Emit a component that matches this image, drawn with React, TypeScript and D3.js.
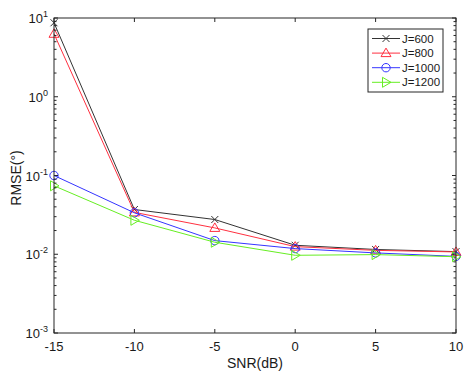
import React from 'react';
import * as d3 from 'd3';

const snr = [-15, -10, -5, 0, 5, 10];
const j600 = [8.7, 0.037, 0.0276, 0.013, 0.0115, 0.0108];
const j800 = [6.3, 0.034, 0.0216, 0.0125, 0.0112, 0.0107];
const j1000 = [0.1, 0.0336, 0.0149, 0.0118, 0.0104, 0.0094];
const j1200 = [0.074, 0.027, 0.0142, 0.0097, 0.0099, 0.0093];
const seriesNames = ['J=600', 'J=800', 'J=1000', 'J=1200'];
const xTicks = [-15, -10, -5, 0, 5, 10];
const yExps = [-3, -2, -1, 0, 1];

const colors = ['#333333', '#ff3040', '#3535ff', '#66ee22'];
const markers = ['x', 'tri', 'circle', 'right'];

function Marker({ type, x, y, color }: { type: string; x: number; y: number; color: string }) {
  const s = 4.5;
  if (type === 'x') {
    return <path d={`M${x - 3.5},${y - 3.5}L${x + 3.5},${y + 3.5}M${x - 3.5},${y + 3.5}L${x + 3.5},${y - 3.5}`} stroke={color} strokeWidth={1} fill="none" />;
  }
  if (type === 'tri') {
    return <path d={`M${x},${y - s - 0.5}L${x + s + 0.5},${y + s - 1}L${x - s - 0.5},${y + s - 1}Z`} stroke={color} strokeWidth={1} fill="none" />;
  }
  if (type === 'circle') {
    return <circle cx={x} cy={y} r={4.2} stroke={color} strokeWidth={1} fill="none" />;
  }
  return <path d={`M${x + s + 0.5},${y}L${x - s + 1},${y - s - 0.5}L${x - s + 1},${y + s + 0.5}Z`} stroke={color} strokeWidth={1} fill="none" />;
}

export default function App() {
  const W = 474, H = 375;
  const left = 54, right = 456, top = 18, bottom = 333;
  const x = d3.scaleLinear().domain([-15, 10]).range([left, right]);
  const y = d3.scaleLog().domain([1e-3, 10]).range([bottom, top]);
  const data = [j600, j800, j1000, j1200];
  const line = d3.line<number>().x((_, i) => x(snr[i])).y((d) => y(d));
  const axisColor = '#262626';
  const minor: number[] = [];
  for (let e = -3; e < 1; e++) for (let k = 2; k <= 9; k++) minor.push(k * Math.pow(10, e));
  const font = 'Arial, "Liberation Sans", sans-serif';

  return (
    <svg width={W} height={H} style={{ position: 'absolute', left: 0, top: 0, background: '#fff' }} fontFamily={font}>
      <rect x={0} y={0} width={W} height={H} fill="#fff" />
      {data.map((vals, si) => (
        <g key={si}>
          <path d={line(vals) || ''} stroke={colors[si]} strokeWidth={1} fill="none" />
          {vals.map((v, i) => (
            <Marker key={i} type={markers[si]} x={x(snr[i])} y={y(v)} color={colors[si]} />
          ))}
        </g>
      ))}
      <rect x={left} y={top} width={right - left} height={bottom - top} fill="none" stroke={axisColor} strokeWidth={1} />
      {xTicks.map((t) => (
        <g key={t}>
          <line x1={x(t)} x2={x(t)} y1={bottom} y2={bottom - 4} stroke={axisColor} />
          <line x1={x(t)} x2={x(t)} y1={top} y2={top + 4} stroke={axisColor} />
          <text x={x(t)} y={bottom + 18} textAnchor="middle" fontSize={13} fill="#1a1a1a">{t}</text>
        </g>
      ))}
      {yExps.map((e) => (
        <g key={e}>
          <line x1={left} x2={left + 4} y1={y(Math.pow(10, e))} y2={y(Math.pow(10, e))} stroke={axisColor} />
          <line x1={right} x2={right - 4} y1={y(Math.pow(10, e))} y2={y(Math.pow(10, e))} stroke={axisColor} />
          <text x={left - 6} y={y(Math.pow(10, e)) + 5} textAnchor="end" fontSize={13} fill="#1a1a1a">
            10<tspan dy={-6} fontSize={9}>{e}</tspan>
          </text>
        </g>
      ))}
      {minor.map((m, i) => (
        <g key={i}>
          <line x1={left} x2={left + 2.5} y1={y(m)} y2={y(m)} stroke={axisColor} />
          <line x1={right} x2={right - 2.5} y1={y(m)} y2={y(m)} stroke={axisColor} />
        </g>
      ))}
      <text x={255} y={368} textAnchor="middle" fontSize={14} fill="#1a1a1a">SNR(dB)</text>
      <text transform={`translate(21,178) rotate(-90)`} textAnchor="middle" fontSize={14} fill="#1a1a1a">RMSE(°)</text>
      <rect x={368} y={29} width={75} height={63} fill="#fff" stroke={axisColor} strokeWidth={1} />
      {seriesNames.map((n, i) => {
        const ly = 38.5 + i * 14.6;
        return (
          <g key={n}>
            <line x1={372} x2={400} y1={ly} y2={ly} stroke={colors[i]} strokeWidth={1} />
            <Marker type={markers[i]} x={386} y={ly} color={colors[i]} />
            <text x={402} y={ly + 4} fontSize={11.5} fill="#1a1a1a">{n}</text>
          </g>
        );
      })}
    </svg>
  );
}
